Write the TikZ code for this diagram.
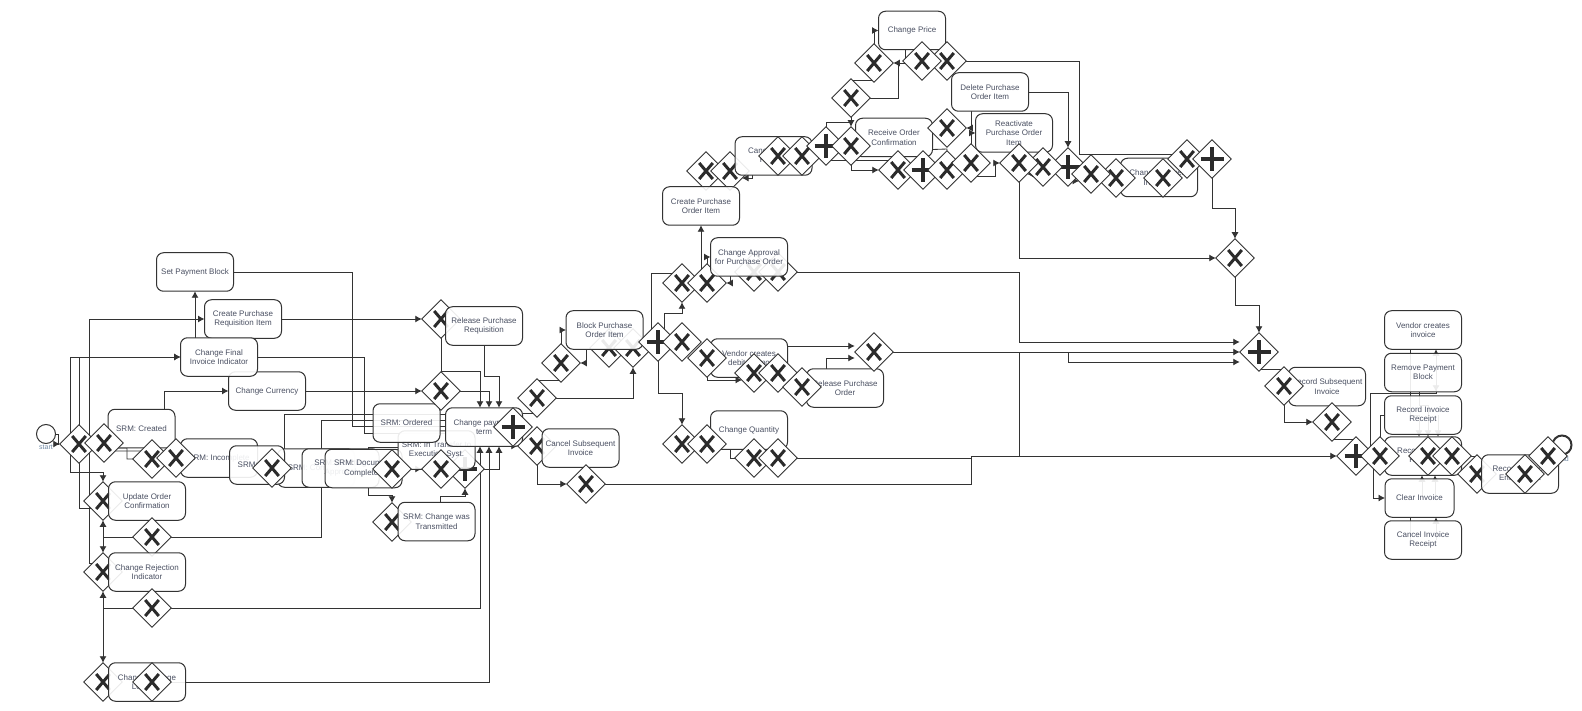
\documentclass[tikz,border=0pt]{standalone}
\usepackage{fontspec}
\setmainfont{Liberation Sans}
\usetikzlibrary{shapes.geometric,arrows.meta}
\pgfdeclarelayer{wires}
\pgfsetlayers{wires,main}
\definecolor{ink}{HTML}{333333}
\definecolor{mark}{HTML}{2B2B2B}
\definecolor{lbl}{HTML}{4A5062}
\definecolor{evlbl}{HTML}{6F88A3}
\tikzset{
 base/.style={draw=ink,line width=1pt,inner sep=0pt,outer sep=0pt},
 task/.style={base,rounded corners=7pt,fill=white,fill opacity=.9,text opacity=1,minimum width=77pt,minimum height=38.5pt,align=center,text=lbl,font=\fontsize{8}{9.4}\selectfont},
 taskn/.style={task,minimum width=67pt},
 gx/.style={base,diamond,fill=white,minimum size=38.5pt,path picture={\draw[line width=3pt,draw=mark] (path picture bounding box.center) +(-6.8,-8) -- +(6.8,8) (path picture bounding box.center) +(6.8,-8) -- +(-6.8,8);}},
 gp/.style={base,diamond,fill=white,minimum size=38.5pt,path picture={\draw[line width=4.6pt,draw=mark] (path picture bounding box.center) +(-11.5,0) -- +(11.5,0) (path picture bounding box.center) +(0,-12) -- +(0,12);}},
 ev/.style={base,circle,fill=white,minimum size=19pt},
 evt/.style={inner sep=0pt,text=evlbl,font=\fontsize{7}{8}\selectfont},
 wire/.style={draw=ink,line width=.85pt},
 flow/.style={wire,-{Latex[length=6.5pt,width=7pt]}},
}
\begin{document}
\begin{tikzpicture}[x=1pt,y=-1pt]
\useasboundingbox (0,0) rectangle (1582,711);
% left column
\node[task] (setpay) at (195,272) {Set Payment Block};
\node[task] (cpr) at (243,319) {Create Purchase\\Requisition Item};
\node[task] (cur) at (267,391) {Change Currency};
\node[task] (final) at (219,357) {Change Final\\Invoice Indicator};
\node[taskn] (created) at (141.5,428.5) {SRM: Created};
\node[ev] (start) at (46,434) {};
\node[evt] (startlbl) at (46,447) {start};
\node[gx] (g1) at (79,444) {};
\node[gx] (g2) at (104,443) {};
\node[task] (inc) at (219,458) {SRM: Incomplete};
\node[gx] (g3) at (152,459) {};
\node[gx] (g4) at (176,458) {};
\node[task] (compl) at (316,468) {SRM: Complete};
\node[task,minimum width=55pt] (held) at (257,465) {SRM: Held};
\node[gx] (g5) at (272,468) {};
\node[task] (await) at (340.5,468) {SRM: Awaiting\\Approval};
\node[task] (doc) at (363.5,468.5) {SRM: Document\\Completed};
\node[gx] (g6) at (103,501) {};
\node[task] (upd) at (147,501) {Update Order\\Confirmation};
\node[gx] (g7) at (152,537) {};
\node[gx] (g8) at (103,572) {};
\node[task] (rej) at (147,572) {Change Rejection\\Indicator};
\node[gx] (g9) at (152,608) {};
\node[gx] (g10) at (103,682) {};
\node[task] (stor) at (147,682) {Change Storage\\Location};
\node[gx] (g11) at (152,682) {};
% SRM cluster
\node[gp] (g16) at (465,469) {};
\node[task] (trans) at (436.5,450) {SRM: In Transfer to\\Execution Syst.};
\node[taskn] (ord) at (406.5,423) {SRM: Ordered};
\node[gx] (g14) at (392,469) {};
\node[gx] (g15) at (441,469) {};
\node[gx] (g17) at (392,522) {};
\node[task] (trm) at (436.5,521.5) {SRM: Change was\\Transmitted};
\node[gx] (g12) at (441,319) {};
\node[task] (rel) at (484,326) {Release Purchase\\Requisition};
\node[gx] (g13) at (441,391) {};
\node[task] (term) at (484,427) {Change payment\\term};
\node[gp] (g18) at (513,427) {};
\node[gx] (g19) at (537,398) {};
\node[gx] (g20) at (537,446) {};
\node[task] (csi) at (580.5,448) {Cancel Subsequent\\Invoice};
\node[gx] (g21) at (586,484) {};
\node[gx] (g22) at (561,363) {};
% middle
\node[gx] (g23) at (609,348) {};
\node[gx] (g24) at (633,348) {};
\node[task] (block) at (604.5,330) {Block Purchase\\Order Item};
\node[gp] (g25) at (658,342) {};
\node[gx] (g26) at (682,342) {};
\node[task] (vend) at (749,358) {Vendor creates\\debit memo};
\node[gx] (g27) at (707,358) {};
\node[task] (rpo) at (845,388) {Release Purchase\\Order};
\node[gx] (g28) at (754,373) {};
\node[gx] (g29) at (778,373) {};
\node[gx] (g30) at (802,387) {};
\node[gx] (g31) at (874,352) {};
\node[gx] (g36) at (682,283) {};
\node[gx] (g38) at (754,272) {};
\node[gx] (g39) at (778,272) {};
\node[gx] (g37) at (707,283) {};
\node[task] (appr) at (749,257) {Change Approval\\for Purchase Order};
\node[gx] (g32) at (682,444) {};
\node[task] (qty) at (749,430) {Change Quantity};
\node[gx] (g33) at (707,444) {};
\node[gx] (g34) at (754,458) {};
\node[gx] (g35) at (778,458) {};
% upper
\node[gx] (g40) at (706,171) {};
\node[gx] (g41) at (730,171) {};
\node[task] (cpo) at (701,206) {Create Purchase\\Order Item};
\node[task] (canc) at (773.5,156) {Cancel Goods\\Receipt};
\node[gx] (g42) at (778,156) {};
\node[gx] (g43) at (802,156) {};
\node[gp] (g44) at (826,146) {};
\node[task] (recv) at (894,137.5) {Receive Order\\Confirmation};
\node[gx] (g45) at (851,146) {};
\node[gx] (g46) at (851,98) {};
\node[taskn] (price) at (912,30.5) {Change Price};
\node[gx] (g47) at (874,63) {};
\node[gx] (g49) at (947,61) {};
\node[gx] (g48) at (922,61) {};
\node[task] (del) at (990,92) {Delete Purchase\\Order Item};
\node[task] (react) at (1014,133) {Reactivate\\Purchase Order\\Item};
\node[gx] (g50) at (898,170) {};
\node[gp] (g51) at (923,170) {};
\node[gx] (g52) at (947,170) {};
\node[gx] (g53) at (947,128) {};
\node[gx] (g54) at (971,163) {};
\node[gp] (g57) at (1068,167) {};
\node[gx] (g56) at (1043,167) {};
\node[gx] (g55) at (1019,163) {};
\node[task] (deli) at (1159,177.5) {Change Delivery\\Indicator};
\node[gx] (g59) at (1116,178) {};
\node[gx] (g58) at (1091,174) {};
\node[gx] (g60) at (1163,178) {};
\node[gx] (g61) at (1187,159) {};
\node[gp] (g62) at (1212,159) {};
\node[gx] (g63) at (1235,258) {};
% right
\node[gp] (g64) at (1259,352) {};
\node[task] (rsi) at (1327,386.5) {Record Subsequent\\Invoice};
\node[gx] (g65) at (1284,386) {};
\node[gx] (g66) at (1332,422) {};
\node[task] (ven) at (1423,330) {Vendor creates\\invoice};
\node[task] (rem) at (1423,372.5) {Remove Payment\\Block};
\node[task] (rir) at (1423,415) {Record Invoice\\Receipt};
\node[task] (gds) at (1423,456) {Record Goods\\Receipt};
\node[task,minimum width=69pt] (clr) at (1419.5,498) {Clear Invoice};
\node[task] (cii) at (1423,540) {Cancel Invoice\\Receipt};
\node[gp] (g67) at (1356,456) {};
\node[gx] (g68) at (1380,456) {};
\node[gx] (g69) at (1428,456) {};
\node[gx] (g70) at (1452,456) {};
\node[gx] (g71) at (1477,474) {};
\node[task] (svc) at (1520,474) {Record Service\\Entry Sheet};
\node[gx] (g72) at (1525,474) {};
\node[ev,line width=2pt] (endev) at (1562,445) {};
\node[evt] (endlbl) at (1563,459) {end};
\node[gx] (g73) at (1548,456) {};

\begin{pgfonlayer}{wires}
\draw[flow] (start.east) -- (58,434) -- (58,444) -- (g1.west);
\draw[flow] (g1.center) -- (70,444) -- (70,357) -- (final.west);
\draw[flow] (g1.north) -- (79,357) -- (final.west);
\draw[flow] (g2.center) -- (89,443) -- (89,319) -- (cpr.west);
\draw[flow] ([xshift=22.5pt]created.north) |- (cur.west);
\draw[flow] ([xshift=-24pt]final.north) -- (setpay.south);
\draw[flow] (g1.center) -- (70,444) -- (70,472) -- (103,472) -- (g6.north);
\draw[wire] (g1.south) |- ([yshift=-7pt]upd.west);
\draw[wire] (g2.center) -- (89,443) -- (89,563) -- ([yshift=9pt]rej.west);
\draw[wire] (g2.center) -- (103,448) -- (127,448) -- (127,459) -- (g3.west);
\draw[wire] (g2.center) -- (103,451) -- (152,451) -- (g3.center);
\draw[flow] (g7.west) -- (103,537) -- (g6.south);
\draw[flow] (g7.west) -- (103,537) -- (g8.north);
\draw[flow] (g9.west) -- (103,608) -- (g8.south);
\draw[flow] (g9.west) -- (103,608) -- (g10.north);
\draw[wire] (g7.east) -- (321,537) -- (321,420) -- ([yshift=7pt]term.west);
\draw[flow] (g9.east) -| ([xshift=-4pt]term.south);
\draw[flow] (g11.east) -| ([xshift=5pt]term.south);
\draw[flow] (g16.east) -| ([xshift=15pt]term.south);
\draw[wire] (setpay.east) -- (352,272) -- (352,426) -- ([yshift=1pt]term.west);
\draw[wire] (final.east) -- (364,357) -- (364,433) -- ([yshift=-6pt]term.west);
\draw[wire] ([xshift=-32pt]compl.north) -- (284,414) -- ([yshift=13pt]term.west);
\draw[flow] (cpr.east) -- (g12.west);
\draw[flow] (cur.east) -- (g13.west);
\draw[wire] (g12.south) -- (g13.north);
\draw[flow] (g13.north) -| ([xshift=-4pt]term.north);
\draw[flow] (g13.east) -| ([xshift=5pt]term.north);
\draw[flow] (rel.south) -- (484,376) -- (499,376) -- ([xshift=15pt]term.north);
\draw[wire] ([xshift=4.5pt]doc.north) -- (368,447) -- (398,447);
\draw[flow] ([xshift=4.5pt]doc.south) -- (368,495) -- (392,495) -- (g17.north);
\draw[flow] (g14.east) -- (g15.west);
\draw[flow] ([xshift=3.5pt]trm.north) -- (440,496) -- (465,496) -- (g16.south);
\draw[flow] (g18.center) |- (g20.west);
\draw[wire] ([yshift=14pt]term.east) -| (g19.south);
\draw[wire] (g19.north) -- (537,380) -- (561,380) -- (g22.south);
\draw[flow] (g19.east) -| (g24.south);
\draw[flow] (g22.north) |- (block.west);
\draw[flow] ([xshift=-18.5pt]block.south) |- (g22.east);
\draw[flow] (g20.south) |- (g21.west);
\draw[flow] (g21.east) -- (971,484) -- (971,456) -- (1019,456) -- (1019,352) -- (1068,352) -- (1068,362) -- ([yshift=-10pt]g64.west);
\draw[flow] (g31.east) -- (g64.west);
\draw[flow] (g39.east) -- (1019,272) -- (1019,342) -- ([yshift=10pt]g64.west);
\draw[wire] (g25.center) -- (651,342) -- (651,273) -- (682,273);
\draw[flow] (g25.center) -- (664,342) -- (664,313) -- (682,313) -- (g36.south);
\draw[flow] (g25.south) |- (682,393) -- (g32.north);
\draw[flow] (g36.center) -- (701,283) -- (cpo.south);
\draw[flow] (g37.north) |- (appr.west);
\draw[flow] ([xshift=-19pt]appr.south) |- (g37.east);
\draw[flow] (g35.east) -- (971,458) -- (971,456) -- (g67.west);
\draw[wire] ([xshift=-19pt]qty.south) |- (g34.west);
\draw[flow] (g27.south) |- ([xshift=-12pt,yshift=-7pt]g28.center);
\draw[flow] ([yshift=12pt]vend.east) -- ([yshift=6pt]g31.west);
\draw[flow] ([xshift=-19pt]rpo.north) |- ([yshift=-6pt]g31.west);
\draw[flow] ([xshift=-21.5pt]canc.south) |- ([xshift=12pt,yshift=-7pt]g41.center);
\draw[flow] (g44.north) -- (826,122) -- (851,122) -- (g45.north);
\draw[wire] (g46.south) -- (851,122);
\draw[wire] (g46.north) -- (851,80) -- (874,80) -- (g47.south);
\draw[flow] (g47.north) |- (price.west);
\draw[flow] ([xshift=-7pt]price.south) |- (g47.east);
\draw[wire] (g46.east) -- (898,98) -- (898,63);
\draw[wire] (g44.center) -- (826,160) -- (898,160) -- (g50.north);
\draw[flow] (g45.south) |- (g50.west);
\draw[wire] ([yshift=-12pt]recv.east) -- (947,149) -- (g52.north);
\draw[flow] (del.east) -| (g57.north);
\draw[flow] ([xshift=-19pt]del.south) |- (g53.east);
\draw[flow] (g54.north) |- (react.west);
\draw[flow] (g54.center) -- (971,176) -- (995,176) -- (995,163) -- (g55.west);
\draw[flow] (g55.south) |- (g63.west);
\draw[wire] (g49.east) -- (1079,61) -- (1079,154) -- ([yshift=5pt]g61.center);
\draw[flow] (g62.south) -- (1212,208) -- (1235,208) -- (g63.north);
\draw[flow] (g63.south) -- (1235,305) -- (1259,305) -- (g64.north);
\draw[flow] (g56.center) -- (1043,174) -- ([xshift=8pt,yshift=-11pt]g55.center);
\draw[flow] (g57.center) -- (1068,181) -- ([xshift=-12pt,yshift=-7pt]g58.center);
\draw[wire] (g64.center) -- (1259,369) -- (1284,369) -- (g65.north);
\draw[flow] (g65.south) |- (g66.west);
\draw[wire] (g66.center) -- (1332,439) -- (1356,439) -- (g67.north);
\draw[flow] (g68.center) -- (1370,456) -- (1370,393) -- (1436,393) -- ([xshift=13pt]ven.south);
\draw[wire] (g68.north) |- (rir.west);
\draw[flow] (g68.center) -- (1373,456) -- (1373,498) -- (clr.west);
\draw[flow] ([xshift=-13pt]ven.south) -- (1410,415) -- (1419,415) -- ([xshift=-4pt]gds.north);
\draw[flow] ([xshift=-4pt]rem.south) -- (1419,405) -- (1428,405) -- ([xshift=5pt]gds.north);
\draw[flow] ([xshift=15pt]rir.center) -- ([xshift=15pt]gds.north);
\draw[flow] ([xshift=13pt]rem.center) -- ([xshift=13pt]rem.south);
\draw[flow] ([xshift=2.5pt]clr.center) -- ([xshift=-1pt]gds.south);
\draw[flow] ([xshift=15.5pt]clr.center) -- ([xshift=12pt]gds.south);
\draw[wire] ([xshift=-13pt]cii.center) -- ([xshift=-9.5pt]clr.south);
\draw[flow] ([xshift=13pt]cii.center) -- ([xshift=16.5pt]clr.south);
\draw[wire] (g70.east) -- (1477,456) -- (g71.north);
\end{pgfonlayer}
\end{tikzpicture}
\end{document}
